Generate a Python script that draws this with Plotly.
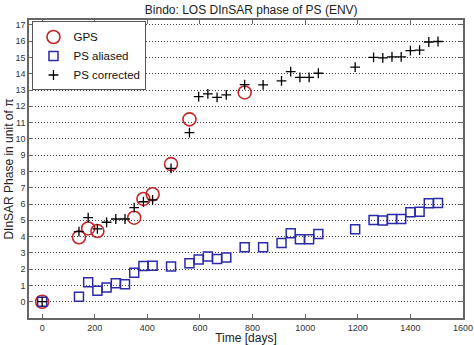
import plotly.graph_objects as go

# Time (days)
gps_t = [0, 140, 175, 210, 350, 385, 420, 490, 560, 770]
gps_y = [0, 3.96, 4.5, 4.34, 5.16, 6.31, 6.6, 8.45, 11.2, 12.85]

ps_t = [0, 140, 175, 210, 245, 280, 315, 350, 385, 420, 490, 560, 595, 630, 665, 700,
        770, 840, 910, 945, 980, 1015, 1050, 1190, 1260, 1295, 1330, 1365, 1400, 1435, 1470, 1505]
alias_y = [0, 0.31, 1.19, 0.68, 0.88, 1.13, 1.07, 1.78, 2.19, 2.21, 2.17, 2.36, 2.6, 2.77, 2.62, 2.72,
           3.34, 3.34, 3.6, 4.2, 3.83, 3.83, 4.16, 4.45, 5.02, 4.98, 5.08, 5.08, 5.49, 5.53, 6.04, 6.06]
corr_y = [0, 4.3, 5.16, 4.47, 4.88, 5.08, 5.08, 5.78, 6.14, 6.25, 8.19, 10.38, 12.6, 12.76, 12.55, 12.7,
          13.33, 13.31, 13.56, 14.13, 13.78, 13.78, 14.03, 14.4, 15.0, 14.97, 15.03, 15.03, 15.42, 15.45, 15.95, 15.98]

x_ticks = list(range(0, 1601, 200))
y_ticks = list(range(0, 18))

fig = go.Figure()
fig.add_trace(go.Scatter(x=gps_t, y=gps_y, mode="markers", name="GPS",
                         marker=dict(symbol="circle-open", size=13, color="#c0282a",
                                     line=dict(width=1.6, color="#c0282a"))))
fig.add_trace(go.Scatter(x=ps_t, y=alias_y, mode="markers", name="PS aliased",
                         marker=dict(symbol="square-open", size=9, color="#2b2ba8",
                                     line=dict(width=1.5, color="#2b2ba8"))))
fig.add_trace(go.Scatter(x=ps_t, y=corr_y, mode="markers", name="PS corrected",
                         marker=dict(symbol="cross-thin", size=7, color="black",
                                     line=dict(width=1.3, color="black"))))

axis_common = dict(showline=True, linecolor="#666", linewidth=1.5, mirror="ticks",
                   ticks="inside", ticklen=4, tickcolor="#666", zeroline=False,
                   automargin=False, tickfont=dict(size=9, color="#333"))

fig.update_xaxes(range=[-50, 1600], tickvals=x_ticks, showgrid=False,
                 title=dict(text="Time [days]", font=dict(size=12, color="#222"), standoff=2),
                 **axis_common)
fig.update_yaxes(range=[-1, 17.3], tickvals=y_ticks, showgrid=True, gridcolor="#444",
                 griddash="1px,2px", gridwidth=1, **axis_common)

fig.add_annotation(text="DInSAR Phase in unit of π", xref="paper", yref="paper",
                   x=-0.047, y=0.5, xanchor="center", yanchor="middle", textangle=-90,
                   showarrow=False, font=dict(size=12, color="#222"))

fig.update_layout(
    width=474, height=345,
    margin=dict(l=29, r=11, t=20, b=27, autoexpand=False),
    paper_bgcolor="white", plot_bgcolor="white",
    font=dict(family="Liberation Sans, Arial, sans-serif", color="#222"),
    title=dict(text="Bindo: LOS DInSAR phase of PS (ENV)", x=0.53, xanchor="center",
               y=0.985, yanchor="top", font=dict(size=12, color="#222")),
    legend=dict(x=0.008, y=0.995, xanchor="left", yanchor="top", bgcolor="white",
                bordercolor="#555", borderwidth=1, font=dict(size=11.5, color="#111"),
                itemwidth=30, tracegroupgap=0),
    showlegend=True,
)

fig.write_html("out.html")
